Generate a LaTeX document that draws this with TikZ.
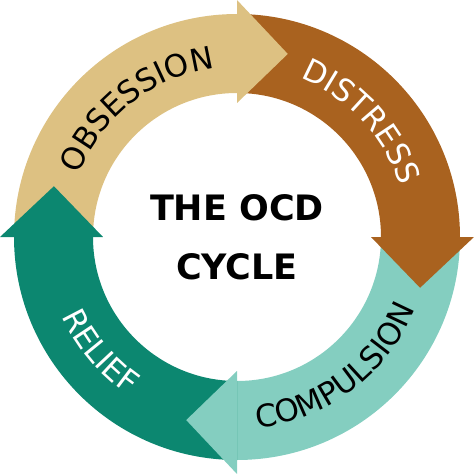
\documentclass[tikz,border=0pt]{standalone}
\usepackage{fontspec}
\setmainfont{DejaVu Sans}
\usetikzlibrary{decorations.text}
\definecolor{obscol}{RGB}{221,193,130}
\definecolor{discol}{RGB}{169,98,31}
\definecolor{comcol}{RGB}{132,206,192}
\definecolor{relcol}{RGB}{12,135,112}
\newcommand\ringlbl{\fontsize{31}{36}\selectfont}
\begin{document}
\begin{tikzpicture}[x=1pt,y=1pt,
  ringtext/.style={decorate, decoration={text along path, text align=center, text color=#1}}]
\useasboundingbox (-237,-237) rectangle (237,237);
% ring bodies
\foreach \a/\c in {180/obscol, 90/discol, 0/comcol, -90/relcol} {
  \fill[\c] (\a:223) arc[start angle=\a, end angle=\a-90, radius=223]
    -- (\a-90:144) arc[start angle=\a-90, end angle=\a, radius=144] -- cycle;
}
% arrow heads
\foreach \b/\c in {90/obscol, 0/discol, -90/comcol, -180/relcol} {
  \fill[\c] (\b:237) -- (\b-15.5:190) -- (\b:134) -- cycle;
}
% labels along the ring
\path[ringtext=black, decoration={text={|\ringlbl|OBSESSION}}]
  (178:170) arc[start angle=178, end angle=78, radius=170];
\path[ringtext=white, decoration={text={|\ringlbl|DISTRESS}}]
  (92.75:171) arc[start angle=92.75, end angle=-7.25, radius=171];
\path[ringtext=black, decoration={text={|\ringlbl|COMPULSION}}]
  (-103:192) arc[start angle=-103, end angle=-3, radius=192];
\path[ringtext=white, decoration={text={|\ringlbl|RELIEF}}]
  (170:192) arc[start angle=170, end angle=270, radius=192];
% title
\node[font=\bfseries\fontsize{35}{59}\selectfont, align=center] (title) at (0,0) {THE OCD\\CYCLE};
\end{tikzpicture}
\end{document}
